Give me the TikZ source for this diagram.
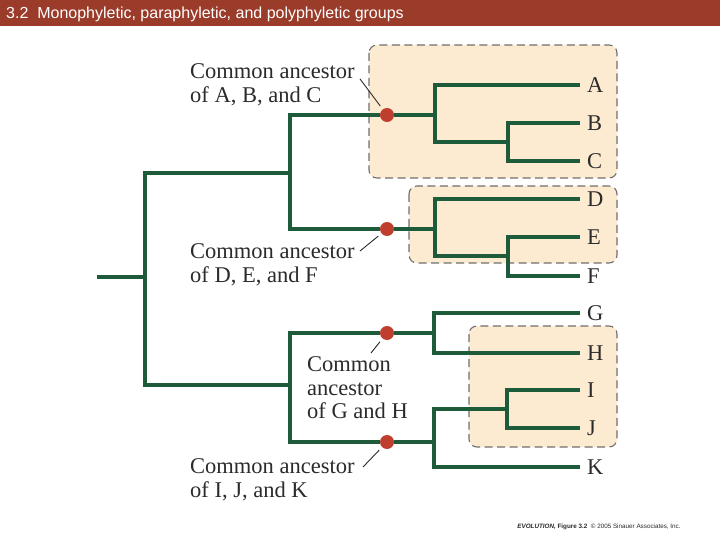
\documentclass[tikz,border=0pt]{standalone}
\usepackage{fontspec}
\setmainfont{Liberation Serif}
\setsansfont{Liberation Sans}
\usetikzlibrary{positioning}
\definecolor{barred}{HTML}{9B3B2A}
\definecolor{treegreen}{HTML}{1E5B3A}
\definecolor{dotred}{HTML}{BF3F2E}
\definecolor{cladebg}{HTML}{FCEBD1}
\definecolor{cladeline}{HTML}{707070}
\definecolor{ink}{HTML}{2B2B2B}
\begin{document}
\begin{tikzpicture}[
 x=1pt,y=-1pt,
 title/.style={font=\sffamily\fontsize{16}{18}\selectfont,text=white,anchor=west,inner sep=0},
 note/.style={font=\fontsize{22.5}{23.5}\selectfont,text=ink,align=left,anchor=west,inner sep=0},
 leaf/.style={font=\fontsize{22.5}{24}\selectfont,text=ink,anchor=west,inner xsep=7pt,inner ysep=0},
 credit/.style={font=\sffamily\fontsize{6.3}{7.5}\selectfont,text=ink,inner sep=0},
 ancestor/.style={circle,fill=dotred,minimum size=14pt,inner sep=0},
 branch/.style={draw=treegreen,line width=4pt},
 leader/.style={draw=ink,line width=.9pt,shorten >=4pt},
 clade/.style={draw=cladeline,fill=cladebg,dash pattern=on 8pt off 4.5pt,line width=1.1pt,rounded corners=8pt}
]
\useasboundingbox (0,0) rectangle (720,540);
\fill[white] (0,0) rectangle (720,540);

% Title bar.
\fill[barred] (0,0) rectangle (720,26);
\node[title] (title) at (6,14) {3.2\ \ Monophyletic, paraphyletic, and polyphyletic groups};

% Shaded clades.
\draw[clade] (369,45) rectangle (617,178);
\draw[clade] (409,186) rectangle (617,263);
\draw[clade] (469,326) rectangle (617,447);

% Forks and ancestors.
\coordinate (root) at (97,277);
\coordinate (split) at (145,277);
\coordinate (upper) at (290,173);
\coordinate (lower) at (290,385);
\node[ancestor] (abc) at (387,115) {};
\node[ancestor] (def) at (387,229) {};
\node[ancestor] (gh) at (387,333) {};
\node[ancestor] (ijk) at (387,442) {};
\coordinate (abcfork) at (435,115);
\coordinate (bcfork) at (508,142);
\coordinate (deffork) at (435,229);
\coordinate (effork) at (508,256);
\coordinate (ghfork) at (434,333);
\coordinate (ijkfork) at (434,442);
\coordinate (ijfork) at (507,409);

% Tips.
\foreach \name/\y in {A/85,B/123,C/161,D/199,E/237,F/276,G/313,H/353,I/390,J/428,K/467}
  \node[leaf] (\name) at (580,\y) {\name};

% Branches.
\draw[branch] (root) -- (split);
\draw[branch] (split) |- (upper);
\draw[branch] (split) |- (lower);
\draw[branch] (upper) |- (abc);
\draw[branch] (upper) |- (def);
\draw[branch] (lower) |- (gh);
\draw[branch] (lower) |- (ijk);
\draw[branch] (abc) -- (abcfork);
\draw[branch] (abcfork) |- (A);
\draw[branch] (abcfork) |- (bcfork);
\draw[branch] (bcfork) |- (B);
\draw[branch] (bcfork) |- (C);
\draw[branch] (def) -- (deffork);
\draw[branch] (deffork) |- (D);
\draw[branch] (deffork) |- (effork);
\draw[branch] (effork) |- (E);
\draw[branch] (effork) |- (F);
\draw[branch] (gh) -- (ghfork);
\draw[branch] (ghfork) |- (G);
\draw[branch] (ghfork) |- (H);
\draw[branch] (ijk) -- (ijkfork);
\draw[branch] (ijkfork) |- (ijfork);
\draw[branch] (ijkfork) |- (K);
\draw[branch] (ijfork) |- (I);
\draw[branch] (ijfork) |- (J);

% Ancestor labels.
\node[note] (noteabc) at (190,85) {Common ancestor\\of A, B, and C};
\node[note] (notedef) at (190,265) {Common ancestor\\of D, E, and F};
\node[note] (notegh) at (307,388) {Common\\ancestor\\of G and H};
\node[note] (noteijk) at (190,480) {Common ancestor\\of I, J, and K};
\coordinate (tipabc) at (360,79);
\coordinate (tipdef) at (360,251);
\coordinate (tipgh) at (371,353);
\coordinate (tipijk) at (363,467);
\draw[leader] (tipabc) -- (abc);
\draw[leader] (tipdef) -- (def);
\draw[leader] (tipgh) -- (gh);
\draw[leader] (tipijk) -- (ijk);

\node[credit] (source) at (599,527) {\textbf{\textit{EVOLUTION,} Figure 3.2}\ \ © 2005 Sinauer Associates, Inc.};
\end{tikzpicture}
\end{document}
